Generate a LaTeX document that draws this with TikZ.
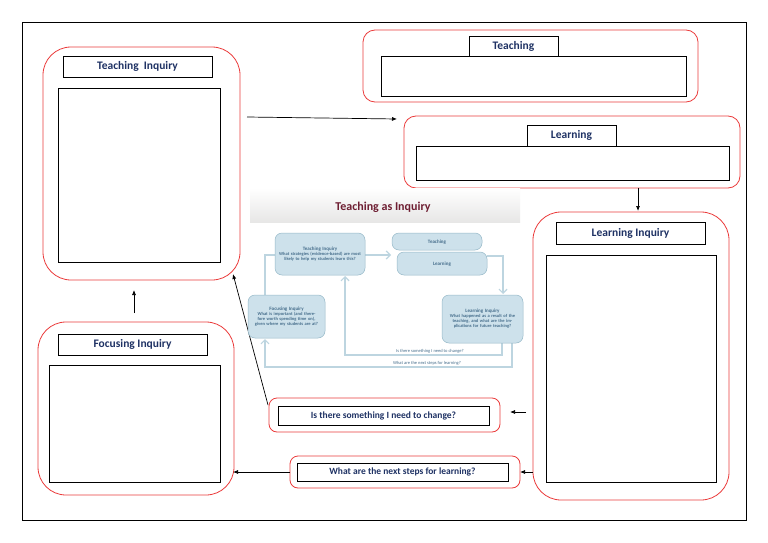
\documentclass[tikz,border=0pt]{standalone}
\usepackage{fontspec}
\setmainfont{Carlito}
\usetikzlibrary{arrows.meta}
\definecolor{navy}{RGB}{31,50,100}
\definecolor{rbox}{RGB}{235,60,60}
\definecolor{pale}{RGB}{205,225,235}
\definecolor{paleE}{RGB}{150,185,200}
\definecolor{ptext}{RGB}{70,110,140}
\definecolor{maroon}{RGB}{110,30,50}
\begin{document}
\begin{tikzpicture}[x=1pt,y=-1pt,
  red/.style={draw=rbox,line width=0.8pt,rounded corners=#1},
  red/.default=12pt,
  blk/.style={draw=black,line width=0.8pt},
  ttl/.style={font=\bfseries\fontsize{11.5}{13}\selectfont,text=navy},
  qt/.style={font=\bfseries\fontsize{9.5}{11}\selectfont,text=navy},
  arr/.style={-{Latex[length=5pt,width=4pt]},line width=0.7pt},
  pb/.style={draw=paleE,fill=pale,rounded corners=7pt,line width=0.5pt},
  pt/.style={font=\bfseries\fontsize{4.5}{5}\selectfont,text=ptext,align=center},
  pl/.style={draw=pale!70!paleE,line width=1.2pt}]
\useasboundingbox (0,0) rectangle (768,543);
\fill[white] (0,0) rectangle (768,543);
\draw[line width=0.8pt] (22,22) rectangle (746,520);
% Teaching Inquiry
\draw[red=28pt] (43,47) rectangle (240,280);
\node[blk,minimum width=149pt,minimum height=21pt,ttl] (tit) at (137.5,66.5) {Teaching\ \ Inquiry};
\node[blk,minimum width=162pt,minimum height=174pt] (tib) at (139,175) {};
% Teaching
\draw[red] (363,30) rectangle (698,102);
\node[blk,minimum width=89pt,minimum height=20pt,ttl] (tt) at (513.5,46) {Teaching};
\node[blk,minimum width=305pt,minimum height=40pt] (tb) at (533.5,76) {};
% Learning
\draw[red] (404,116) rectangle (740,188);
\node[blk,minimum width=89pt,minimum height=21pt,ttl] (lt) at (571.5,135.5) {Learning};
\node[blk,minimum width=313pt,minimum height=34pt] (lb) at (572.5,163) {};
% Learning Inquiry
\draw[red=28pt] (533,212) rectangle (729,500);
\node[blk,minimum width=149pt,minimum height=22pt,ttl] (lit) at (630.5,233) {Learning Inquiry};
\node[blk,minimum width=170pt,minimum height=227pt] (lib) at (631,368.5) {};
% Focusing Inquiry
\draw[red=28pt] (38,322) rectangle (234,495);
\node[blk,minimum width=149pt,minimum height=21pt,ttl] (fit) at (132.5,344.5) {Focusing Inquiry};
\node[blk,minimum width=171pt,minimum height=117pt] (fib) at (134.5,423.5) {};
% questions
\draw[red=8pt] (269,398) rectangle (500,432);
\node[blk,minimum width=211pt,minimum height=19pt,qt] (q1) at (383.5,415.5) {Is there something I need to change?};
\draw[red=8pt] (290,456) rectangle (520,488);
\node[blk,minimum width=211pt,minimum height=18pt,qt] (q2) at (402.5,472) {What are the next steps for learning?};
% arrows
\coordinate (a1s) at (247,117); \coordinate (a1e) at (397,119);
\draw[arr] (a1s) -- (a1e);
\coordinate (a2s) at (638,188); \coordinate (a2e) at (638,211);
\draw[arr] (a2s) -- (a2e);
\coordinate (a3s) at (134,313); \coordinate (a3e) at (134,290);
\draw[arr] (a3s) -- (a3e);
\coordinate (a4s) at (526,412); \coordinate (a4e) at (510,412);
\draw[arr] (a4s) -- (a4e);
\coordinate (a5s) at (533,472); \coordinate (a5e) at (520,472);
\draw[arr] (a5s) -- (a5e);
\coordinate (a6s) at (290,472); \coordinate (a6e) at (233,472);
\draw[arr] (a6s) -- (a6e);
\coordinate (a7s) at (268,405); \coordinate (a7e) at (233,274);
\draw[arr] (a7s) -- (a7e);
% central picture
\shade[top color=white,bottom color=brown!8!black!10] (250,188) rectangle (520,222);
\node[text=maroon,font=\bfseries\fontsize{12}{13}\selectfont] (cti) at (383,207) {Teaching as Inquiry};
\draw[pl] (265,295) -- (265,255) -- (275,255);
\draw[pl,-{Straight Barb[length=4pt]}] (365,255) -- (391,255);
\draw[pl,-{Straight Barb[length=4pt]}] (487,256) -- (503,256) -- (503,294);
\draw[pl,-{Straight Barb[length=4pt]}] (502,343) -- (502,355) -- (345,355) -- (345,276);
\draw[pl,-{Straight Barb[length=4pt]}] (512,343) -- (512,367) -- (265,367) -- (265,339);
\node[pb,minimum width=90pt,minimum height=42pt] (cti2) at (320,254) {};
\node[pt,text width=86pt] at (320,254) {{\fontsize{5}{6}\selectfont Teaching Inquiry}\\What strategies (evidence-based) are most likely to help my students learn this?};
\node[pb,minimum width=90pt,minimum height=23pt] (cl) at (442,263.5) {};
\node[pt,font=\bfseries\fontsize{5}{6}\selectfont] at (442,264) {Learning};
\node[pb,minimum width=90pt,minimum height=17pt] (ct) at (437,241.5) {};
\node[pt,font=\bfseries\fontsize{5}{6}\selectfont] at (437,242) {Teaching};
\node[pb,minimum width=77pt,minimum height=43pt] (cf) at (286.5,316.5) {};
\node[pt,text width=72pt] at (286.5,316.5) {{\fontsize{5}{6}\selectfont Focusing Inquiry}\\What is important (and therefore worth spending time on), given where my students are at?};
\node[pb,minimum width=81pt,minimum height=48pt] (cli) at (482.5,319) {};
\node[pt,text width=76pt] at (482.5,319) {{\fontsize{5}{6}\selectfont Learning Inquiry}\\What happened as a result of the teaching, and what are the implications for future teaching?};
\node[pt,font=\fontsize{4.5}{5}\selectfont] at (430,351) {Is there something I need to change?};
\node[pt,font=\fontsize{4.5}{5}\selectfont] at (427,363) {What are the next steps for learning?};
\end{tikzpicture}
\end{document}
